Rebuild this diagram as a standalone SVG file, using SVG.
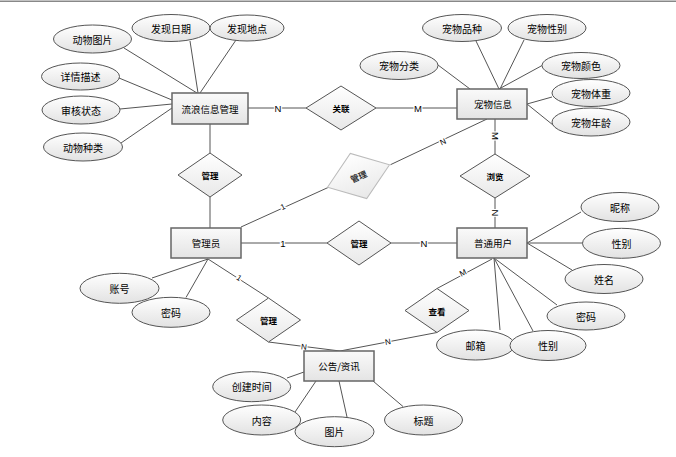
<svg xmlns="http://www.w3.org/2000/svg" width="676" height="457" viewBox="0 0 676 457">
<defs>
<linearGradient id="gE" x1="0" y1="0" x2="0" y2="1">
<stop offset="0" stop-color="#ffffff"/>
<stop offset="1" stop-color="#e2e2e2"/>
</linearGradient>
<linearGradient id="gR" x1="0" y1="0" x2="0" y2="1">
<stop offset="0" stop-color="#fafafa"/>
<stop offset="1" stop-color="#e4e4e4"/>
</linearGradient>
<linearGradient id="gD" x1="0" y1="0" x2="0" y2="1">
<stop offset="0" stop-color="#ffffff"/>
<stop offset="1" stop-color="#e8e8e8"/>
</linearGradient>
</defs>
<style>
text{font-family:"Noto Sans CJK SC","Liberation Sans",sans-serif;fill:#000;text-anchor:middle;dominant-baseline:central}
.ent rect{fill:url(#gR);stroke:#666;stroke-width:1.5}
.ent text{font-size:9.5px}
.att ellipse{fill:url(#gE);stroke:#555;stroke-width:1}
.att text{font-size:10px}
.rel polygon{fill:url(#gD);stroke:#555;stroke-width:1}
.rel text{font-size:8.5px;font-weight:bold}
.soft polygon{stroke:#bbb}
#connectors line{stroke:#555;stroke-width:1;fill:none}
.card{font-family:"Liberation Sans",sans-serif;font-size:9.5px;stroke:#fff;stroke-width:2.5;paint-order:stroke}
.cs{font-size:8px}
</style>
<rect x="0" y="0" width="676" height="457" fill="#fff"/>
<line x1="0" y1="1.2" x2="676" y2="1.2" stroke="#888" stroke-width="1.5"/>
<g id="connectors">
<line x1="124" y1="48" x2="197" y2="93"/>
<line x1="190" y1="41" x2="198" y2="93"/>
<line x1="236" y1="40" x2="200" y2="93"/>
<line x1="119" y1="78" x2="172" y2="100"/>
<line x1="120" y1="109" x2="172" y2="104"/>
<line x1="121" y1="143" x2="172" y2="108"/>
<line x1="248" y1="108" x2="306" y2="108"/>
<line x1="376" y1="108" x2="457" y2="108"/>
<line x1="438" y1="65" x2="470" y2="89"/>
<line x1="476" y1="41" x2="499" y2="89"/>
<line x1="524" y1="40" x2="500" y2="89"/>
<line x1="543" y1="65" x2="499" y2="89"/>
<line x1="552" y1="97" x2="527" y2="104"/>
<line x1="553" y1="125" x2="527" y2="104"/>
<line x1="210" y1="124" x2="210" y2="153"/>
<line x1="210" y1="197" x2="210" y2="228"/>
<line x1="487" y1="119" x2="390.5" y2="164.7"/>
<line x1="241" y1="227" x2="328.5" y2="187.3"/>
<line x1="495" y1="119" x2="495" y2="154"/>
<line x1="495" y1="198" x2="495" y2="228"/>
<line x1="241" y1="243" x2="327" y2="243"/>
<line x1="391" y1="243" x2="457" y2="243"/>
<line x1="527" y1="243" x2="581" y2="212"/>
<line x1="527" y1="243" x2="583" y2="243"/>
<line x1="527" y1="243" x2="572" y2="270"/>
<line x1="494" y1="258" x2="557" y2="305"/>
<line x1="494" y1="258" x2="500" y2="330"/>
<line x1="494" y1="258" x2="533" y2="331"/>
<line x1="492" y1="259" x2="437" y2="288.5"/>
<line x1="437" y1="332.5" x2="340" y2="351"/>
<line x1="208" y1="259" x2="268.5" y2="298"/>
<line x1="268.5" y1="342" x2="340" y2="351"/>
<line x1="208" y1="259" x2="152" y2="278"/>
<line x1="208" y1="259" x2="186" y2="297.5"/>
<line x1="287" y1="378" x2="304" y2="372"/>
<line x1="295" y1="412" x2="316" y2="381"/>
<line x1="347" y1="417" x2="339" y2="381"/>
<line x1="373" y1="381" x2="403" y2="406.5"/>
<text class="card" x="278" y="108">N</text>
<text class="card" x="418" y="108">M</text>
<text class="card cs" x="443" y="142" transform="rotate(-25 443 142)">N</text>
<text class="card cs" x="283" y="207" transform="rotate(-25 283 207)">1</text>
<text class="card" x="495" y="136" transform="rotate(90 495 136)">M</text>
<text class="card" x="495" y="213" transform="rotate(90 495 213)">N</text>
<text class="card" x="283" y="243">1</text>
<text class="card" x="424" y="243">N</text>
<text class="card cs" x="463" y="273" transform="rotate(-27 463 273)">M</text>
<text class="card cs" x="388" y="342" transform="rotate(-10 388 342)">N</text>
<text class="card cs" x="239" y="278" transform="rotate(33 239 278)">1</text>
<text class="card cs" x="304" y="347" transform="rotate(7 304 347)">N</text>
</g>
<g id="rel-guanlian" class="rel"><polygon points="306,108 341,86 376,108 341,130"/><text x="341" y="108">关联</text></g>
<g id="rel-guanli-top" class="rel"><polygon points="178,175 210,153 242,175 210,197"/><text x="210" y="175">管理</text></g>
<g id="rel-guanli-pet" class="rel soft" transform="rotate(-20 358.5 176)"><polygon points="325.5,176 358.5,152 391.5,176 358.5,200"/><text x="358.5" y="176" transform="rotate(-4 358.5 176)" style="fill:#333">管理</text></g>
<g id="rel-liulan" class="rel"><polygon points="460,176 495,154 530,176 495,198"/><text x="495" y="176">浏览</text></g>
<g id="rel-guanli-user" class="rel"><polygon points="327,243 359,221 391,243 359,265"/><text x="359" y="243">管理</text></g>
<g id="rel-chakan" class="rel"><polygon points="405,310.5 437,288.5 469,310.5 437,332.5"/><text x="437" y="310.5">查看</text></g>
<g id="rel-guanli-news" class="rel"><polygon points="236.5,320 268.5,298 300.5,320 268.5,342"/><text x="268.5" y="320">管理</text></g>
<g id="ent-stray" class="ent"><rect x="172" y="93" width="76" height="31"/><text x="210" y="108.5">流浪信息管理</text></g>
<g id="ent-pet" class="ent"><rect x="457" y="89" width="70" height="30"/><text x="493" y="104">宠物信息</text></g>
<g id="ent-admin" class="ent"><rect x="171" y="228" width="70" height="30"/><text x="206" y="243">管理员</text></g>
<g id="ent-user" class="ent"><rect x="457" y="228" width="70" height="30"/><text x="493" y="243">普通用户</text></g>
<g id="ent-news" class="ent"><rect x="304" y="351" width="70" height="30"/><text x="339" y="366">公告/资讯</text></g>
<g id="att-1" class="att"><ellipse cx="92.5" cy="39" rx="39" ry="14"/><text x="92.5" y="39">动物图片</text></g>
<g id="att-2" class="att"><ellipse cx="171" cy="28" rx="39" ry="13.5"/><text x="171" y="28">发现日期</text></g>
<g id="att-3" class="att"><ellipse cx="247" cy="28" rx="37" ry="13"/><text x="247" y="28">发现地点</text></g>
<g id="att-4" class="att"><ellipse cx="80.5" cy="76.5" rx="39" ry="13.5"/><text x="80.5" y="76.5">详情描述</text></g>
<g id="att-5" class="att"><ellipse cx="81" cy="110" rx="39" ry="14"/><text x="81" y="110">审核状态</text></g>
<g id="att-6" class="att"><ellipse cx="83" cy="147" rx="39.5" ry="14"/><text x="83" y="147">动物种类</text></g>
<g id="att-7" class="att"><ellipse cx="462" cy="28" rx="39.5" ry="13.5"/><text x="462" y="28">宠物品种</text></g>
<g id="att-8" class="att"><ellipse cx="547" cy="28" rx="39" ry="13.5"/><text x="547" y="28">宠物性别</text></g>
<g id="att-9" class="att"><ellipse cx="399" cy="65.5" rx="39" ry="14"/><text x="399" y="65.5">宠物分类</text></g>
<g id="att-10" class="att"><ellipse cx="581" cy="65.5" rx="39" ry="13"/><text x="581" y="65.5">宠物颜色</text></g>
<g id="att-11" class="att"><ellipse cx="591" cy="93" rx="39" ry="13.5"/><text x="591" y="93">宠物体重</text></g>
<g id="att-12" class="att"><ellipse cx="591" cy="122" rx="39" ry="14"/><text x="591" y="122">宠物年龄</text></g>
<g id="att-13" class="att"><ellipse cx="620" cy="207" rx="39" ry="14.5"/><text x="620" y="207">昵称</text></g>
<g id="att-14" class="att"><ellipse cx="621.5" cy="243.3" rx="39" ry="15"/><text x="621.5" y="243.3">性别</text></g>
<g id="att-15" class="att"><ellipse cx="604" cy="279" rx="39" ry="14.5"/><text x="604" y="279">姓名</text></g>
<g id="att-16" class="att"><ellipse cx="586" cy="316" rx="39" ry="14"/><text x="586" y="316">密码</text></g>
<g id="att-17" class="att"><ellipse cx="475.5" cy="345" rx="39" ry="15"/><text x="475.5" y="345">邮箱</text></g>
<g id="att-18" class="att"><ellipse cx="548" cy="345.5" rx="38" ry="15"/><text x="548" y="345.5">性别</text></g>
<g id="att-19" class="att"><ellipse cx="119.5" cy="288.3" rx="39.5" ry="15"/><text x="119.5" y="288.3">账号</text></g>
<g id="att-20" class="att"><ellipse cx="171" cy="312.3" rx="39" ry="15"/><text x="171" y="312.3">密码</text></g>
<g id="att-21" class="att"><ellipse cx="251.7" cy="386.7" rx="39" ry="15"/><text x="251.7" y="386.7">创建时间</text></g>
<g id="att-22" class="att"><ellipse cx="261.7" cy="420" rx="39" ry="15"/><text x="261.7" y="420">内容</text></g>
<g id="att-23" class="att"><ellipse cx="334.5" cy="431.7" rx="39.5" ry="15"/><text x="334.5" y="431.7">图片</text></g>
<g id="att-24" class="att"><ellipse cx="423.5" cy="420" rx="39" ry="15"/><text x="423.5" y="420">标题</text></g>
</svg>
